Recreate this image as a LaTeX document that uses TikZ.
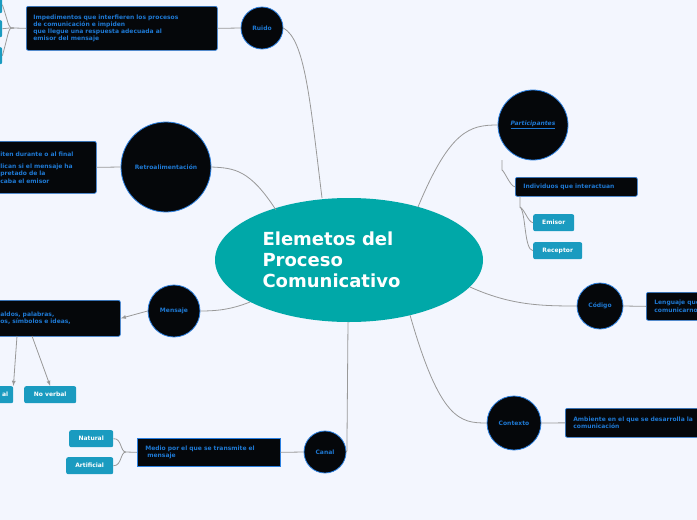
\documentclass[tikz,border=0pt]{standalone}
\usepackage{fontspec}
\setmainfont{DejaVu Sans}
\usetikzlibrary{shapes.geometric}
\definecolor{tealc}{HTML}{00A8A8}
\definecolor{cyb}{HTML}{1A9BC0}
\definecolor{txb}{HTML}{1E78D2}
\definecolor{bdb}{HTML}{2A7FE0}
\definecolor{nodef}{HTML}{05070A}
\definecolor{bgc}{HTML}{F3F6FE}
\begin{document}
\begin{tikzpicture}[x=1pt,y=-1pt,
  font=\bfseries\fontsize{6}{7.3}\selectfont,
  circ/.style={circle,fill=nodef,draw=bdb,line width=0.8pt,text=txb,inner sep=0pt,minimum size=#1},
  dbox/.style={rectangle,rounded corners=2pt,fill=nodef,draw=bdb,line width=0.7pt,text=txb,anchor=north west,align=left,inner sep=0pt,minimum height=#1},
  cbox/.style={rectangle,rounded corners=2pt,fill=cyb,text=white,inner sep=0pt,anchor=north west,minimum height=17pt},
  conn/.style={draw=gray!80,line width=0.8pt},
  arr/.style={conn,-latex}]
\useasboundingbox[fill=bgc] (0,0) rectangle (697,520);
% central
\node[ellipse,fill=tealc,minimum width=268pt,minimum height=124pt,inner sep=0pt] (c) at (349,260) {};
\node[text=white,font=\bfseries\fontsize{18}{21}\selectfont,align=left,anchor=west] at (259,260) {Elemetos del\\Proceso\\Comunicativo};
% circles
\node[circ=42pt] (ruido) at (262,28) {Ruido};
\node[circ=90pt] (retro) at (166,167) {Retroalimentación};
\node[circ=52pt] (mens) at (174,311) {Mensaje};
\node[circ=42pt] (canal) at (325,452) {Canal};
\node[circ=70pt] (part) at (533,125) {\textit{\underline{Participantes}}};
\node[circ=46pt] (cod) at (600,306) {Código};
\node[circ=54pt] (ctx) at (514,423) {Contexto};
% center connectors
\coordinate (c1) at (322,198); \coordinate (c2) at (276,210); \coordinate (c3) at (250,302);
\coordinate (c4) at (348,322); \coordinate (c5) at (418,207); \coordinate (c6) at (470,287); \coordinate (c7) at (410,315);
\draw[conn] (c1) .. controls (310,100) and (305,40) .. (ruido.east);
\draw[conn] (c2) .. controls (250,170) and (235,168) .. (retro.east);
\draw[conn] (c3) .. controls (230,310) and (215,311) .. (mens.east);
\draw[conn] (c4) -- (347,440) .. controls (347,452) .. (canal.east);
\draw[conn] (c5) .. controls (450,130) and (470,125) .. (part.west);
\draw[conn] (c6) .. controls (510,305) and (540,306) .. (cod.west);
\draw[conn] (c7) .. controls (440,420) and (460,423) .. (ctx.west);
% Ruido
\node[dbox=44pt,text width=191pt] (rb) at (26,6) {\hspace*{7pt}Impedimentos que interfieren los procesos\\\hspace*{7pt}de comunicación e impiden\\\hspace*{7pt}que llegue una respuesta adecuada al\\\hspace*{7pt}emisor del mensaje};
\draw[conn] (ruido.west) -- (rb.east);
\node[cbox,minimum width=10pt] (r1) at (-8,-4) {};
\node[cbox,minimum width=10pt] (r2) at (-8,20) {};
\node[cbox,minimum width=10pt] (r3) at (-8,47) {};
\draw[conn] (rb.west) -- (14,28);
\foreach \n in {r1,r2,r3}{\draw[conn] (14,28) .. controls (8,28) and (10,28) .. (\n.east);}
% Retro
\node[dbox=52pt,text width=101pt] (tb) at (-5,141) {\hspace*{5pt}iten durante o al final\\[5pt]\hspace*{5pt}lican si el mensaje ha\\\hspace*{5pt}pretado de la\\\hspace*{5pt}caba el emisor};
\draw[conn] (retro.west) -- (tb.east);
% Mensaje
\node[dbox=36pt,text width=125pt] (mb) at (-5,300) {\hspace*{5pt}aldos, palabras,\\\hspace*{5pt}os, símbolos e ideas,\\[10pt]};
\draw[arr] (mens.west) -- (mb.east);
\node[cbox,minimum width=18pt] (vb) at (-5,386) {\hspace*{3pt}al\,};
\node[cbox,minimum width=52pt] (nv) at (24,386) {No verbal};
\draw[arr] (17,336) -- (vb.north east);
\draw[arr] (32,336) -- (nv.north);
% Canal
\node[dbox=28pt,text width=143pt,rounded corners=0pt] (kb) at (137,438) {\hspace*{8pt}Medio por el que se transmite el\\\hspace*{10pt}mensaje};
\draw[conn] (canal.west) -- (kb.east);
\node[cbox,minimum width=44pt] (nat) at (69,430) {Natural};
\node[cbox,minimum width=47pt] (art) at (66,457) {Artificial};
\draw[conn] (kb.west) -- (126,452) .. controls (120,452) and (122,438) .. (nat.east);
\draw[conn] (126,452) .. controls (120,452) and (122,466) .. (art.east);
% Participantes
\node[dbox=19pt,text width=122pt] (ib) at (515,177) {\hspace*{8pt}Individuos que interactuan};
\draw[conn] (502,160) -- (502,170) .. controls (505,172) and (510,186) .. (ib.west);
\node[cbox,minimum width=41pt] (em) at (533,214) {Emisor};
\node[cbox,minimum width=49pt] (rc) at (533,242) {Receptor};
\draw[conn] (520,196) -- (520,207) .. controls (525,210) and (528,222) .. (em.west);
\draw[conn] (520,207) .. controls (526,212) and (524,250) .. (rc.west);
% Codigo
\node[dbox=28pt,text width=70pt] (cb) at (646,292) {\hspace*{8pt}Lenguaje que\\\hspace*{8pt}comunicarnos};
\draw[conn] (cod.east) -- (cb.west);
% Contexto
\node[dbox=29pt,text width=150pt] (xb) at (565,408) {\hspace*{8pt}Ambiente en el que se desarrolla la\\\hspace*{8pt}comunicación};
\draw[conn] (ctx.east) -- (xb.west);
\end{tikzpicture}
\end{document}
